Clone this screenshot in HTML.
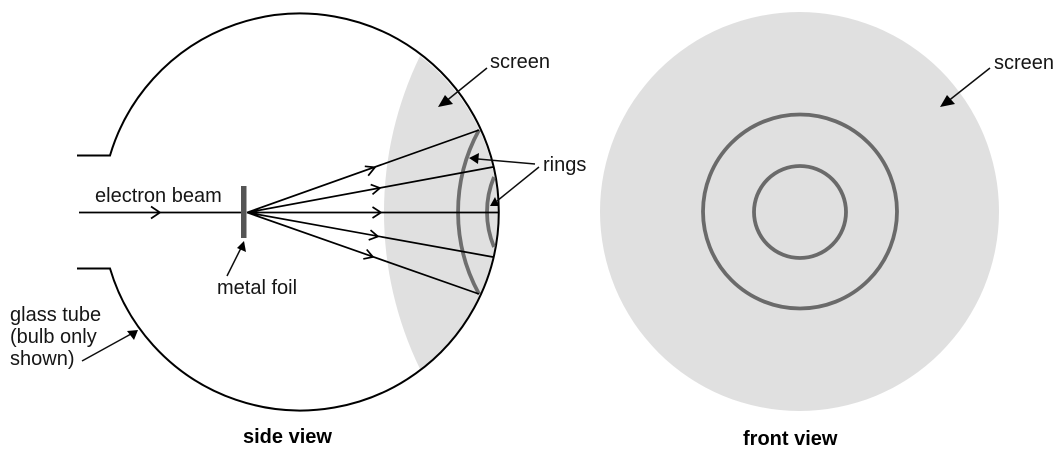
<!DOCTYPE html>
<html><head><meta charset="utf-8"><style>
html,body{margin:0;padding:0;background:#fff}
svg{display:block}
text{font-family:"Liberation Sans",sans-serif;font-size:20px;fill:#151515}
text.b{font-weight:bold;fill:#000}
</style></head><body>
<svg width="1058" height="476" viewBox="0 0 1058 476" xmlns="http://www.w3.org/2000/svg">
<defs><filter id="f" x="-5%" y="-5%" width="110%" height="110%"><feGaussianBlur stdDeviation="0.38"/></filter>
<filter id="t" x="-5%" y="-5%" width="110%" height="110%"><feGaussianBlur stdDeviation="0.3"/></filter></defs>
<g filter="url(#f)">
<rect width="1058" height="476" fill="#fff"/>
<!-- side view screen -->
<path d="M420 56 A358 358 0 0 0 420 369 A198.5 198.5 0 0 0 498 212.5 A198.5 198.5 0 0 0 420 56Z" fill="#e0e0e0"/>
<!-- bulb -->
<path d="M77 155.5H110A198.5 198.5 0 1 1 110 268.5H77" fill="none" stroke="#000" stroke-width="2"/>
<!-- rings side -->
<g fill="none" stroke="#6e6e6e" stroke-width="3.8">
<path d="M479 130A171 171 0 0 0 479 294"/>
<path d="M494 177A91 91 0 0 0 494 247"/>
</g>
<!-- foil -->
<rect x="241" y="186" width="5.5" height="52" fill="#555"/>
<!-- rays -->
<g fill="none" stroke="#000" stroke-width="1.7">
<path d="M79 212.5H241"/>
<path d="M247 212.5L479 130M247 212.5L493 167M247 212.5H498M247 212.5L493 257M247 212.5L479 294"/>
<path d="M151 206.5L160 212.5L151 218.5"/>
<path d="M368.2 175.7L375 167.3L364.8 166.3"/>
<path d="M372.5 194.4L380 188L370.7 184.6"/>
<path d="M372.5 207L381 212.5L372.5 218"/>
<path d="M368.7 239.9L378 236.5L370.5 230.1"/>
<path d="M363.3 258.9L373 257L366.7 249.5"/>
</g>
<!-- front view -->
<circle cx="799.5" cy="211.5" r="199.5" fill="#e0e0e0"/>
<circle cx="800" cy="211.5" r="97" fill="none" stroke="#6a6a6a" stroke-width="3.8"/>
<circle cx="800" cy="212" r="46" fill="none" stroke="#6a6a6a" stroke-width="3.8"/>
<!-- label arrows -->
<g stroke="#111" stroke-width="1.5" fill="none">
<path d="M487 68L445 102"/>
<path d="M535 164L478 159"/>
<path d="M539 167L497 201"/>
<path d="M227 276L241 248"/>
<path d="M82 361L131 334"/>
<path d="M990 68L947 102"/>
</g>
<g fill="#000">
<path d="M438 107L445 95L453 104Z"/>
<path d="M469 158L479 153L478 164Z"/>
<path d="M495 197L499 206L490 206Z"/>
<path d="M244 241L246 252L237 248Z"/>
<path d="M138 330L134 340L127 331Z"/>
<path d="M940 107L947 95L955 104Z"/>
</g>
</g>
<g filter="url(#t)">
<!-- labels -->
<text x="95" y="202">electron beam</text>
<text x="490" y="68">screen</text>
<text x="543" y="171">rings</text>
<text x="217" y="294">metal foil</text>
<text x="10" y="321">glass tube</text>
<text x="10" y="343">(bulb only</text>
<text x="10" y="365">shown)</text>
<text x="994" y="69">screen</text>
<text class="b" x="243" y="443">side view</text>
<text class="b" x="743" y="445">front view</text>
</g>
</svg>
</body></html>
